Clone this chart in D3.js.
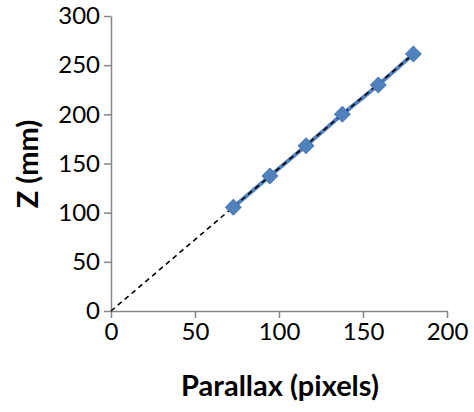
<!DOCTYPE html>
<html><head><meta charset="utf-8">
<script src="https://cdn.jsdelivr.net/npm/d3@7"></script>
<style>body{margin:0;background:#fff}</style>
</head><body>
<svg width="474" height="412"></svg>
<script>
var parallax = [72.8, 94.6, 116.1, 137.7, 159.1, 180];
var zmm = [105.5, 137.3, 168.1, 200, 229.8, 261.4];
var trend = [[0, 0], [180, 261.4]];
var xTicks = [0, 50, 100, 150, 200];
var yTicks = [0, 50, 100, 150, 200, 250, 300];

var svg = d3.select("svg");
var x = d3.scaleLinear().domain([0, 200]).range([111, 447]);
var y = d3.scaleLinear().domain([0, 300]).range([311, 16]);
var font = "Lato, sans-serif";

var gx = svg.append("g").attr("transform", "translate(0,311)")
  .call(d3.axisBottom(x).tickValues(xTicks).tickSize(7).tickSizeOuter(0).tickPadding(5));
var gy = svg.append("g").attr("transform", "translate(111,0)")
  .call(d3.axisLeft(y).tickValues(yTicks).tickSize(7).tickSizeOuter(0).tickPadding(4));
[gx, gy].forEach(g => {
  g.selectAll("path,line").attr("stroke", "#868686").attr("stroke-width", 1.5);
  g.selectAll("text").attr("font-family", font).attr("font-size", 24).attr("fill", "#000");
});

var data = parallax.map((p, i) => [p, zmm[i]]);
var line = d3.line().x(d => x(d[0])).y(d => y(d[1]));

svg.append("path").datum(data).attr("d", line)
  .attr("fill", "none").attr("stroke", "#4f81bd").attr("stroke-width", 4);
svg.append("path").datum(trend).attr("d", line)
  .attr("fill", "none").attr("stroke", "#000").attr("stroke-width", 1.6)
  .attr("stroke-dasharray", "5,4");
svg.selectAll("rect.pt").data(data).enter().append("rect")
  .attr("x", -5.5).attr("y", -5.5).attr("width", 11).attr("height", 11)
  .attr("transform", d => `translate(${x(d[0])},${y(d[1])}) rotate(45)`)
  .attr("fill", "#4f81bd").attr("stroke", "#4a7ab5").attr("stroke-width", 1);

svg.append("text").attr("x", 280).attr("y", 396).attr("text-anchor", "middle")
  .attr("font-family", font).attr("font-size", 29).attr("font-weight", "bold")
  .text("Parallax (pixels)");
svg.append("text").attr("transform", "translate(38,164) rotate(-90)")
  .attr("text-anchor", "middle").attr("font-family", font).attr("font-size", 29)
  .attr("font-weight", "bold").text("Z (mm)");
</script>
</body></html>
